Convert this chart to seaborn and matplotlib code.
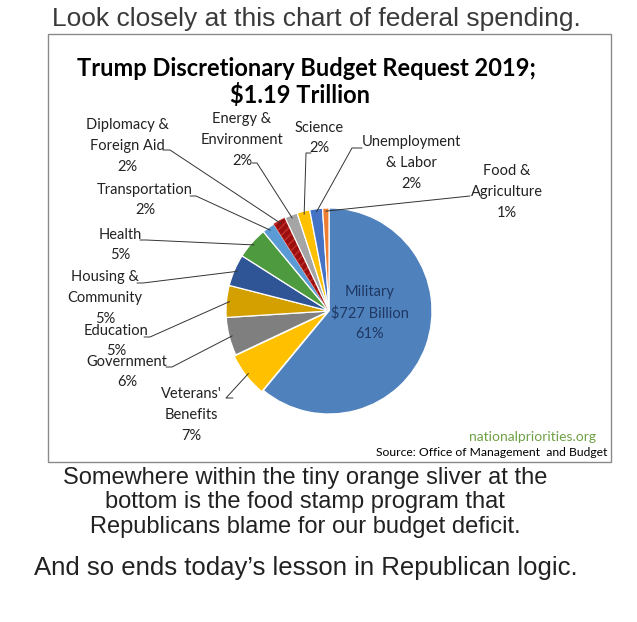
import numpy as np
import matplotlib
matplotlib.use("Agg")
import matplotlib.pyplot as plt
import seaborn as sns
from matplotlib.patches import Rectangle

# ---------------- data ----------------
categories = ["Military", "Veterans'\nBenefits", "Government", "Education",
              "Housing &\nCommunity", "Health", "Transportation",
              "Diplomacy &\nForeign Aid", "Energy &\nEnvironment", "Science",
              "Unemployment\n& Labor", "Food &\nAgriculture"]
percent = [61, 7, 6, 5, 5, 5, 2, 2, 2, 2, 2, 1]
military_billion = 727
total_trillion = 1.19

colors = ["#4F81BD", "#FFC000", "#7F7F7F", "#D4A000", "#2F5597", "#4E9A3E",
          "#5B9BD5", "#9B0F0F", "#A5A5A5", "#FFC000", "#4472C4", "#ED7D31"]

# ---------------- layout (pixels) ----------------
W, H = 637, 622
CX, CY, R = 329, 311, 103
label_pos = {  # text centre, leader-line start points
    1: ((191, 415), [(233, 398), (226, 398)]),
    2: ((127, 372), [(166, 367), (172, 367)]),
    3: ((116, 341), [(144, 337), (150, 337)]),
    4: ((105, 298), [(137, 283), (143, 283)]),
    5: ((120, 245), [(140, 240), (146, 240)]),
    6: ((145, 200), [(190, 196), (196, 196)]),
    7: ((127, 146), [(163, 150), (170, 150)]),
    8: ((242, 140), [(252, 163), (257, 163)]),
    9: ((319, 138), [(311, 153), (306, 153)]),
    10: ((411, 163), [(362, 148), (352, 148)]),
    11: ((507, 192), [(470, 196)]),
}

sns.set_style("white")
plt.rcParams["font.family"] = ["Lato", "DejaVu Sans"]

fig = plt.figure(figsize=(W / 100, H / 100), dpi=100)
fig.patch.set_facecolor("white")


def fx(x, y):
    return x / W, 1 - y / H


# frame box
fig.patches.append(Rectangle(fx(48, 462), (611 - 48) / W, (462 - 34) / H,
                             transform=fig.transFigure, fill=False,
                             edgecolor="#8a8a8a", linewidth=1.0))

# pie axes
ax = fig.add_axes([(CX - R) / W, (H - CY - R) / H, 2 * R / W, 2 * R / H])
explode = [0, 0.02] + [0] * (len(percent) - 2)
wedges, _ = ax.pie(percent, colors=colors, startangle=90, counterclock=False,
                   explode=explode, radius=1,
                   wedgeprops=dict(edgecolor="white", linewidth=0.9))
wedges[7].set_hatch("////")
wedges[7].set_edgecolor("#C0302A")
wedges[7].set_linewidth(0.4)
ax.set_xlim(-1, 1)
ax.set_ylim(-1, 1)
ax.set_aspect("equal")
ax.axis("off")


def to_data(p):
    return ((p[0] - CX) / R, (CY - p[1]) / R)


lab_font = dict(fontsize=10.5, color="#222222", ha="center", va="center",
                linespacing=1.6)
for i, ((tx, ty), pts) in label_pos.items():
    ax.text(*to_data((tx, ty)), f"{categories[i]}\n{percent[i]}%", **lab_font)
    w = wedges[i]
    mid = np.deg2rad((w.theta1 + w.theta2) / 2)
    cxw, cyw = w.center
    end = (cxw + 0.97 * np.cos(mid), cyw + 0.97 * np.sin(mid))
    path = [to_data(p) for p in pts] + [end]
    xs, ys = zip(*path)
    ax.plot(xs, ys, color="#333333", linewidth=0.7, clip_on=False)

ax.text(*to_data((370, 313)),
        f"{categories[0]}\n${military_billion} Billion\n{percent[0]}%",
        fontsize=10.5, color="#1F3864", ha="center", va="center",
        linespacing=1.6)

# titles and texts
fig.text(*fx(316, 19), "Look closely at this chart of federal spending.",
         fontsize=19, color="#3a3a3a", ha="center", va="center",
         family=["Liberation Sans", "DejaVu Sans"])
fig.text(*fx(306, 68), "Trump Discretionary Budget Request 2019;",
         fontsize=17, fontweight="bold", color="black", ha="center",
         va="center")
fig.text(*fx(300, 95), f"${total_trillion} Trillion", fontsize=17,
         fontweight="bold", color="black", ha="center", va="center")
fig.text(*fx(533, 437), "nationalpriorities.org", fontsize=10,
         color="#6FA044", ha="center", va="center")
fig.text(*fx(607, 452), "Source: Office of Management  and Budget",
         fontsize=8.7, color="black", ha="right", va="center")

body = dict(fontsize=17, color="#222222", ha="center", va="center",
            family=["Liberation Sans", "DejaVu Sans"])
fig.text(*fx(305, 478), "Somewhere within the tiny orange sliver at the", **body)
fig.text(*fx(305, 502), "bottom is the food stamp program that", **body)
fig.text(*fx(305, 527), "Republicans blame for our budget deficit.", **body)
fig.text(*fx(306, 568), "And so ends today\u2019s lesson in Republican logic.",
         **{**body, "fontsize": 18.5})

fig.savefig("out.png", dpi=100, facecolor="white")
